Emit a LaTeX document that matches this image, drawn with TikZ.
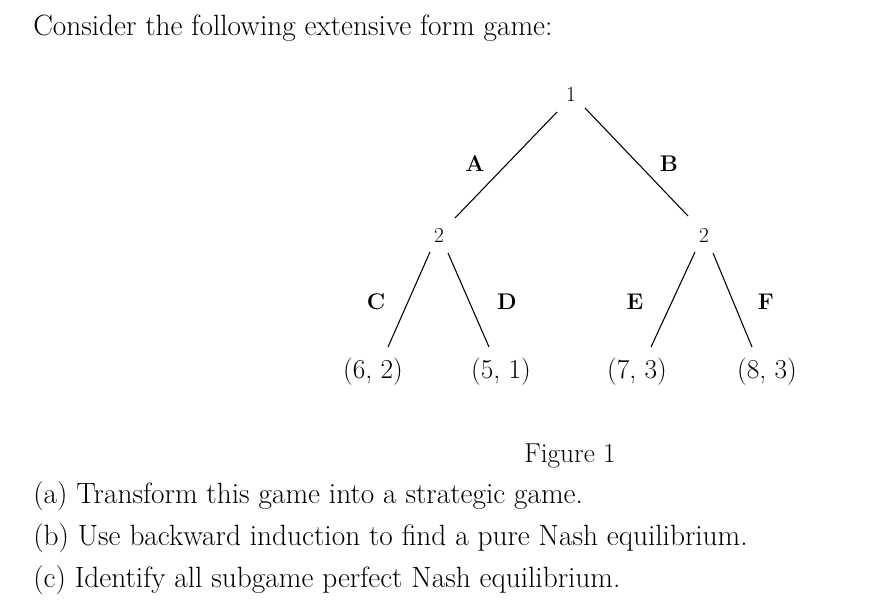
\documentclass[tikz,border=0pt]{standalone}
\begin{document}
\begin{tikzpicture}[x=0.75pt,y=-0.75pt,
  txt/.style={font=\fontsize{22}{26}\selectfont,anchor=west,inner sep=0},
  pay/.style={font=\fontsize{20.5}{24}\selectfont,inner sep=0},
  pl/.style={font=\fontsize{16}{18}\selectfont,inner sep=0},
  act/.style={font=\bfseries\fontsize{17}{19}\selectfont,inner sep=0},
  br/.style={line width=0.8pt}]
\useasboundingbox (0,0) rectangle (885,604);
\node[txt] (t0) at (33,28) {Consider the following extensive form game:};
\node[pl] (n1) at (571,94) {1};
\node[pl] (n2l) at (439,235) {2};
\node[pl] (n2r) at (704,235) {2};
\node[act] (A) at (475,164) {A};
\node[act] (B) at (669,164) {B};
\node[act] (C) at (376,302) {C};
\node[act] (D) at (507,302) {D};
\node[act] (E) at (635,302) {E};
\node[act] (F) at (766,302) {F};
\node[pay] (p1) at (373,372) {(6, 2)};
\node[pay] (p2) at (501,372) {(5, 1)};
\node[pay] (p3) at (637,372) {(7, 3)};
\node[pay] (p4) at (767,372) {(8, 3)};
\coordinate (a1) at (557,112); \coordinate (a2) at (455,218);
\coordinate (b1) at (585,108); \coordinate (b2) at (688,216);
\coordinate (c1) at (430,252); \coordinate (c2) at (388,347);
\coordinate (d1) at (448,253); \coordinate (d2) at (489,347);
\coordinate (e1) at (695,252); \coordinate (e2) at (651,347);
\coordinate (f1) at (713,253); \coordinate (f2) at (752,347);
\draw[br] (a1) -- (a2); \draw[br] (b1) -- (b2);
\draw[br] (c1) -- (c2); \draw[br] (d1) -- (d2);
\draw[br] (e1) -- (e2); \draw[br] (f1) -- (f2);
\node[pay] (fig) at (570,456) {Figure 1};
\node[txt] (qa) at (33,496) {(a) Transform this game into a strategic game.};
\node[txt] (qb) at (33,538) {(b) Use backward induction to find a pure Nash equilibrium.};
\node[txt] (qc) at (33,580) {(c) Identify all subgame perfect Nash equilibrium.};
\end{tikzpicture}
\end{document}
